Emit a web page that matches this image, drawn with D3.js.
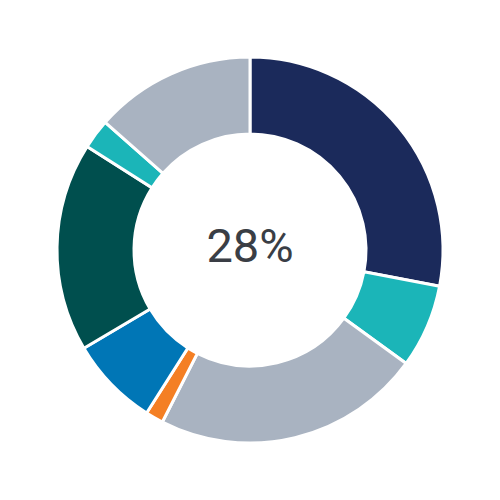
<!DOCTYPE html>
<html>
<head>
<meta charset="utf-8">
<script src="https://cdn.jsdelivr.net/npm/d3@7"></script>
<style>
  html, body { margin: 0; padding: 0; background: #fff; }
</style>
</head>
<body>
<div id="chart"></div>
<script>
// slice shares in percent, clockwise from 12 o'clock
var segments = ["A", "B", "C", "D", "E", "F", "G", "H"];
var values = [28, 7, 22.5, 1.5, 7.5, 17.5, 2.5, 13.5];
var colors = ["#1b2a5b", "#1bb5b8", "#a9b3c1", "#f47f24", "#0076b6", "#004f4e", "#1bb5b8", "#a9b3c1"];
var centerLabel = "28%";

var width = 500, height = 500;
var outerR = 193, innerR = 116;

var svg = d3.select("#chart")
    .append("svg")
    .attr("width", width)
    .attr("height", height);

var g = svg.append("g")
    .attr("transform", "translate(" + width / 2 + "," + height / 2 + ")");

var pie = d3.pie()
    .sort(null)
    .value(function (d) { return d; });

var arc = d3.arc()
    .innerRadius(innerR)
    .outerRadius(outerR);

g.selectAll("path")
    .data(pie(values))
    .enter()
    .append("path")
    .attr("d", arc)
    .attr("fill", function (d, i) { return colors[i]; })
    .attr("stroke", "#fff")
    .attr("stroke-width", 3);

g.append("text")
    .attr("text-anchor", "middle")
    .attr("dy", "0.35em")
    .attr("y", -4)
    .style("font-family", "Roboto, 'Liberation Sans', sans-serif")
    .style("font-size", "47px")
    .style("fill", "#3a3e45")
    .text(centerLabel);
</script>
</body>
</html>
